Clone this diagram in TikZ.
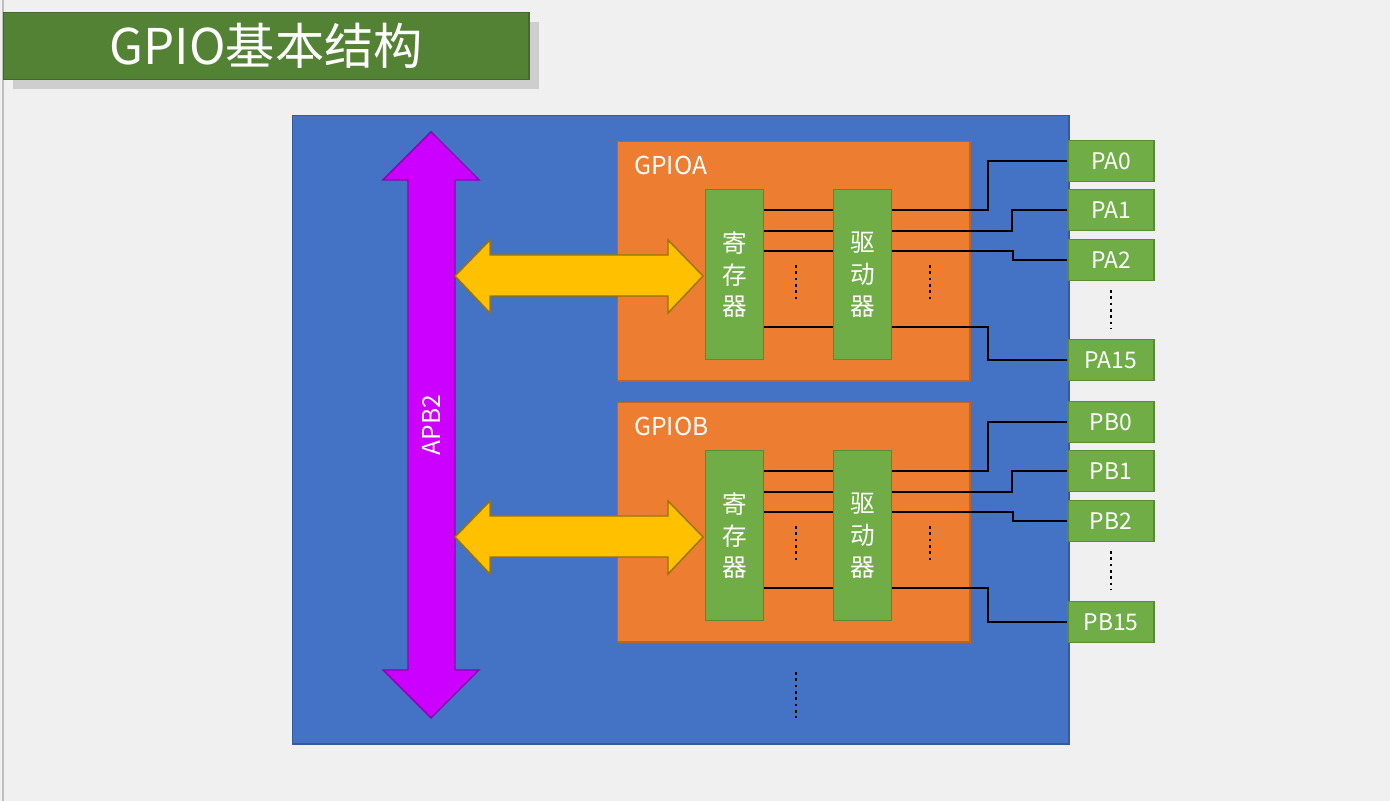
\documentclass[tikz,border=0pt]{standalone}
\usepackage{fontspec}
\setmainfont{Noto Sans CJK SC}
\usetikzlibrary{calc,positioning,shadows}
\definecolor{bgc}{HTML}{F0F0F0}
\definecolor{titlec}{HTML}{548235}
\definecolor{bluec}{HTML}{4472C4}
\definecolor{orangec}{HTML}{ED7D31}
\definecolor{greenc}{HTML}{70AD47}
\definecolor{purplec}{HTML}{CC00FF}
\definecolor{yellowc}{HTML}{FFC000}
\tikzset{
    x=0.01cm, y=-0.01cm,
    box/.style={draw=#1!80!black, fill=#1, inner sep=0, anchor=north west},
    pin/.style={box=greenc, minimum width=0.86cm, minimum height=0.41cm, text=white, font=\fontsize{6.5}{7}\selectfont, anchor=center},
    blk/.style={box=greenc, minimum width=0.58cm, minimum height=1.70cm, text=white, align=center, font=\fontsize{7}{9}\selectfont},
    wire/.style={thin, black},
    dots/.style={densely dotted, thick, black}
}
\begin{document}
\begin{tikzpicture}
\fill[bgc] (0,0) rectangle (1390,801);
\useasboundingbox (0,0) rectangle (1390,801);
\draw[gray!50] (3,0) -- (3,801);
% title
\node[box=titlec, minimum width=5.25cm, minimum height=0.67cm, drop shadow={opacity=0.3}] (title) at (3,12) {};
\node[text=white, font=\fontsize{14}{16}\selectfont] at (title.center) {GPIO基本结构};
% chip
\node[box=bluec, minimum width=7.76cm, minimum height=6.28cm] (chip) at (292,115) {};
% APB2 bus
\draw[purplec!70!black, fill=purplec] (431,132) -- (479,180) -- (455,180) -- (455,670) -- (479,670)
    -- (431,718) -- (383,670) -- (408,670) -- (408,180) -- (383,180) -- cycle;
\node[text=white, rotate=90, font=\fontsize{7}{8}\selectfont] (apb) at (431,425) {APB2};
% ports
\foreach \p/\dy in {A/0, B/261}{
  \node[box=orangec, minimum width=3.52cm, minimum height=2.39cm] (gpio\p) at (617,141+\dy) {};
  \node[text=white, anchor=west, font=\fontsize{7}{8}\selectfont] at (622,165+\dy) {GPIO\p};
  \node[blk] (reg\p) at (705,189+\dy) {寄\\存\\器};
  \node[blk] (drv\p) at (833,189+\dy) {驱\\动\\器};
  \draw[yellowc!60!black, fill=yellowc] (455,276+\dy) -- (490,240+\dy) -- (490,255+\dy) -- (668,255+\dy)
      -- (668,240+\dy) -- (703,276+\dy) -- (668,313+\dy) -- (668,296+\dy) -- (490,296+\dy) -- (490,313+\dy) -- cycle;
  \foreach \y in {210,231,251,327}
    \draw[wire] (reg\p.east |- 0,\y+\dy) -- (drv\p.west |- 0,\y+\dy);
  \draw[dots] (796,265+\dy) -- (796,302+\dy);
  \draw[dots] (930,265+\dy) -- (930,302+\dy);
  \draw[dots] (1111,290+\dy) -- (1111,328+\dy);
}
% pins
\foreach \n/\y in {PA0/161, PA1/210, PA2/260, PA15/360, PB0/422, PB1/471, PB2/521, PB15/622}
  \node[pin] (\n) at (1111,\y) {\n};
\draw[wire] (drvA.east |- 0,210) -| (988,161) -- (PA0.west);
\draw[wire] (drvA.east |- 0,231) -| (1012,210) -- (PA1.west);
\draw[wire] (drvA.east |- 0,251) -| (1013,260) -- (PA2.west);
\draw[wire] (drvA.east |- 0,327) -| (988,360) -- (PA15.west);
\draw[wire] (drvB.east |- 0,471) -| (988,422) -- (PB0.west);
\draw[wire] (drvB.east |- 0,492) -| (1012,471) -- (PB1.west);
\draw[wire] (drvB.east |- 0,512) -| (1013,521) -- (PB2.west);
\draw[wire] (drvB.east |- 0,588) -| (988,622) -- (PB15.west);
\draw[dots] (796,672) -- (796,718);
\end{tikzpicture}
\end{document}
